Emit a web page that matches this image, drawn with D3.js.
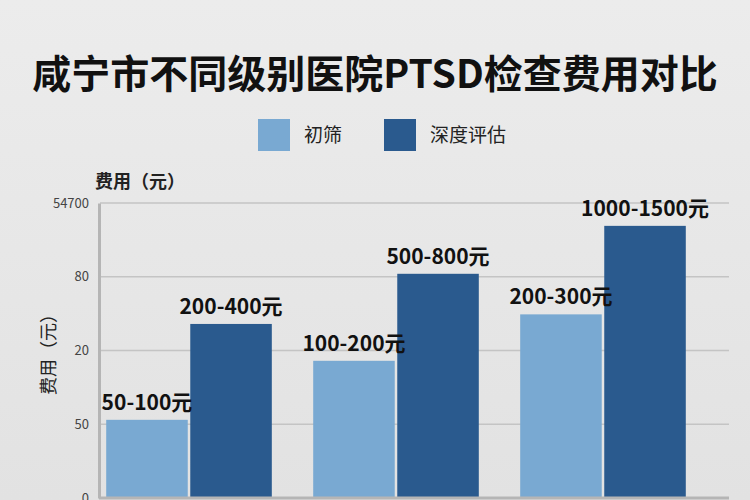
<!DOCTYPE html>
<html>
<head>
<meta charset="utf-8">
<script src="https://cdn.jsdelivr.net/npm/d3@7"></script>
<style>
  body { margin: 0; background: #e5e5e5; }
  text { font-family: "Noto Sans CJK SC", "Noto Sans", sans-serif; }
</style>
</head>
<body>
<script>
// data
var groups = ["一级医院", "二级医院", "三级医院"];
var series = ["初筛", "深度评估"];
var screening = [1.06, 1.86, 2.49];
var assessment = [2.36, 3.04, 3.69];
var screeningLabels = ["50-100元", "100-200元", "200-300元"];
var assessmentLabels = ["200-400元", "500-800元", "1000-1500元"];
var tickValues = [0, 1, 2, 3, 4];
var tickLabels = ["0", "50", "20", "80", "54700"];
var colors = ["#79a9d2", "#2a5a8e"];

var w = 750, h = 500;
var svg = d3.select("body").append("svg")
    .attr("width", w).attr("height", h);

var bg = svg.append("defs").append("linearGradient")
    .attr("id", "bg").attr("x1", 0).attr("y1", 0).attr("x2", 0).attr("y2", 1);
bg.append("stop").attr("offset", "0%").attr("stop-color", "#ececec");
bg.append("stop").attr("offset", "100%").attr("stop-color", "#e2e2e2");
svg.append("rect").attr("width", w).attr("height", h).attr("fill", "url(#bg)");

var y = d3.scaleLinear().domain([0, 4]).range([498, 203]);
var x0 = d3.scaleBand().domain(groups).range([100, 692]).paddingInner(0.2).paddingOuter(0.03);
var x1 = d3.scaleBand().domain(series).range([0, x0.bandwidth()]).paddingInner(0.03);

// title
svg.append("text").attr("x", w / 2).attr("y", 88).attr("text-anchor", "middle")
    .attr("font-size", 39).attr("font-weight", "bold").attr("fill", "#111")
    .text("咸宁市不同级别医院PTSD检查费用对比");

// legend
var legend = svg.append("g").attr("class", "legend");
var lx = [258, 384];
series.forEach(function(s, i) {
  legend.append("rect").attr("x", lx[i]).attr("y", 119).attr("width", 32).attr("height", 32)
      .attr("fill", colors[i]);
  legend.append("text").attr("x", lx[i] + 46).attr("y", 142)
      .attr("font-size", 19).attr("fill", "#222").text(s);
});

// gridlines
svg.append("g").selectAll("line").data(tickValues.slice(1)).join("line")
    .attr("x1", 100).attr("x2", 729)
    .attr("y1", function(d) { return y(d); }).attr("y2", function(d) { return y(d); })
    .attr("stroke", "#c4c4c4").attr("stroke-width", 1.5);

// y axis
var yAxis = d3.axisLeft(y).tickValues(tickValues)
    .tickFormat(function(d, i) { return tickLabels[i]; }).tickSize(0).tickPadding(10);
var ya = svg.append("g").attr("transform", "translate(99,0)").call(yAxis);
ya.select(".domain").attr("stroke", "#b5b5b5").attr("stroke-width", 3);
ya.selectAll("text").attr("font-size", 13).attr("fill", "#444")
    .attr("font-family", "Roboto, sans-serif");

svg.append("text").attr("x", 95).attr("y", 188)
    .attr("font-size", 18).attr("font-weight", "bold").attr("fill", "#222").text("费用（元）");
svg.append("text").attr("transform", "translate(55,350) rotate(-90)")
    .attr("text-anchor", "middle").attr("font-size", 18).attr("fill", "#222").text("费用（元）");

// bars
var rows = groups.map(function(g, i) {
  return [
    { g: g, s: series[0], v: screening[i], label: screeningLabels[i] },
    { g: g, s: series[1], v: assessment[i], label: assessmentLabels[i] }
  ];
});
var gg = svg.append("g").selectAll("g").data(rows).join("g")
    .attr("transform", function(d) { return "translate(" + x0(d[0].g) + ",0)"; });
gg.selectAll("rect").data(function(d) { return d; }).join("rect")
    .attr("x", function(d) { return x1(d.s); })
    .attr("width", x1.bandwidth())
    .attr("y", function(d) { return y(d.v); })
    .attr("height", function(d) { return y(0) - y(d.v); })
    .attr("fill", function(d, i) { return colors[i]; });
gg.selectAll("text").data(function(d) { return d; }).join("text")
    .attr("x", function(d) { return x1(d.s) + x1.bandwidth() / 2; })
    .attr("y", function(d) { return y(d.v) - 10; })
    .attr("text-anchor", "middle").attr("font-size", 21).attr("font-weight", "bold")
    .attr("fill", "#111").text(function(d) { return d.label; });

// baseline
svg.append("line").attr("x1", 99).attr("x2", 729).attr("y1", 498).attr("y2", 498)
    .attr("stroke", "#b5b5b5").attr("stroke-width", 3);
</script>
</body>
</html>
